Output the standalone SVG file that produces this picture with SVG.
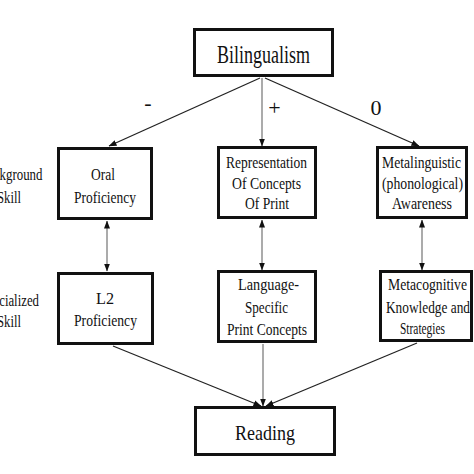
<svg xmlns="http://www.w3.org/2000/svg" width="474" height="474" viewBox="0 0 474 474">
<style>
.box{fill:#fff;stroke:#111;stroke-width:3}
.t{font-family:'Liberation Serif','Times New Roman',Times,serif;fill:#111;text-anchor:middle}
.s{font-size:17px}
.c{fill:none;stroke:#222;stroke-width:1.3}
.v{fill:none;stroke:#666;stroke-width:1.1}
</style>
<defs>
<marker id="ah" markerUnits="userSpaceOnUse" markerWidth="8" markerHeight="8" viewBox="0 0 8 8" refX="7.5" refY="4" orient="auto-start-reverse">
<path d="M0,1 L8,4 L0,7 Z" fill="#111"/>
</marker>
</defs>
<g id="connectors">
<line class="c" x1="260" y1="78" x2="109" y2="146" marker-end="url(#ah)"/>
<line class="v" x1="262" y1="78" x2="262" y2="146" marker-end="url(#ah)"/>
<line class="c" x1="265" y1="78" x2="419" y2="146" marker-end="url(#ah)"/>
<line class="v" x1="107" y1="221" x2="107" y2="271" marker-start="url(#ah)" marker-end="url(#ah)"/>
<line class="v" x1="262" y1="220" x2="262" y2="270" marker-start="url(#ah)" marker-end="url(#ah)"/>
<line class="v" x1="422" y1="220" x2="422" y2="270" marker-start="url(#ah)" marker-end="url(#ah)"/>
<line class="c" x1="113" y1="346" x2="261" y2="406" marker-end="url(#ah)"/>
<line class="v" x1="263" y1="344" x2="263" y2="406" marker-end="url(#ah)"/>
<line class="c" x1="417" y1="343" x2="266" y2="406" marker-end="url(#ah)"/>
<text class="t" x="148" y="110" font-size="22">-</text>
<text class="t" x="274.5" y="115" font-size="22">+</text>
<text class="t" x="376" y="115" font-size="22">0</text>
</g>
<g id="label-background">
<text class="t s" x="11" y="180" textLength="63" lengthAdjust="spacingAndGlyphs">Background</text>
<text class="t s" x="9" y="203" textLength="24" lengthAdjust="spacingAndGlyphs">Skill</text>
</g>
<g id="label-specialized">
<text class="t s" x="9.5" y="306" textLength="59" lengthAdjust="spacingAndGlyphs">Specialized</text>
<text class="t s" x="9" y="327" textLength="24" lengthAdjust="spacingAndGlyphs">Skill</text>
</g>
<g id="bilingualism">
<rect class="box" x="194.5" y="29.5" width="138" height="46"/>
<text class="t" x="263.5" y="63" font-size="25" textLength="93" lengthAdjust="spacingAndGlyphs">Bilingualism</text>
</g>
<g id="oral">
<rect class="box" x="58.5" y="148.5" width="93" height="70"/>
<text class="t s" x="103" y="180" textLength="24" lengthAdjust="spacingAndGlyphs">Oral</text>
<text class="t s" x="105" y="203" textLength="62" lengthAdjust="spacingAndGlyphs">Proficiency</text>
</g>
<g id="representation">
<rect class="box" x="218.5" y="147.5" width="97" height="70"/>
<text class="t s" x="266.5" y="168" textLength="81" lengthAdjust="spacingAndGlyphs">Representation</text>
<text class="t s" x="266.5" y="189" textLength="69" lengthAdjust="spacingAndGlyphs">Of Concepts</text>
<text class="t s" x="267" y="209" textLength="44" lengthAdjust="spacingAndGlyphs">Of Print</text>
</g>
<g id="metalinguistic">
<rect class="box" x="377.5" y="147.5" width="89" height="70"/>
<text class="t s" x="421.5" y="168" textLength="79" lengthAdjust="spacingAndGlyphs">Metalinguistic</text>
<text class="t s" x="422.5" y="189" textLength="81" lengthAdjust="spacingAndGlyphs">(phonological)</text>
<text class="t s" x="422" y="209" textLength="60" lengthAdjust="spacingAndGlyphs">Awareness</text>
</g>
<g id="l2">
<rect class="box" x="58.5" y="273.5" width="94" height="70"/>
<text class="t s" x="105" y="304" textLength="18" lengthAdjust="spacingAndGlyphs">L2</text>
<text class="t s" x="105.5" y="326" textLength="63" lengthAdjust="spacingAndGlyphs">Proficiency</text>
</g>
<g id="language">
<rect class="box" x="218.5" y="271.5" width="97" height="70"/>
<text class="t s" x="268.5" y="290" textLength="61" lengthAdjust="spacingAndGlyphs">Language-</text>
<text class="t s" x="266.5" y="313" textLength="43" lengthAdjust="spacingAndGlyphs">Specific</text>
<text class="t s" x="267" y="335" textLength="80" lengthAdjust="spacingAndGlyphs">Print Concepts</text>
</g>
<g id="metacognitive">
<rect class="box" x="380.5" y="271.5" width="91" height="69"/>
<text class="t s" x="427.5" y="290" textLength="79" lengthAdjust="spacingAndGlyphs">Metacognitive</text>
<text class="t s" x="428" y="313" textLength="84" lengthAdjust="spacingAndGlyphs">Knowledge and</text>
<text class="t s" x="422.5" y="334" textLength="45" lengthAdjust="spacingAndGlyphs">Strategies</text>
</g>
<g id="reading">
<rect class="box" x="195.5" y="407.5" width="139" height="47"/>
<text class="t" x="265" y="440" font-size="22" textLength="60" lengthAdjust="spacingAndGlyphs">Reading</text>
</g>
</svg>
